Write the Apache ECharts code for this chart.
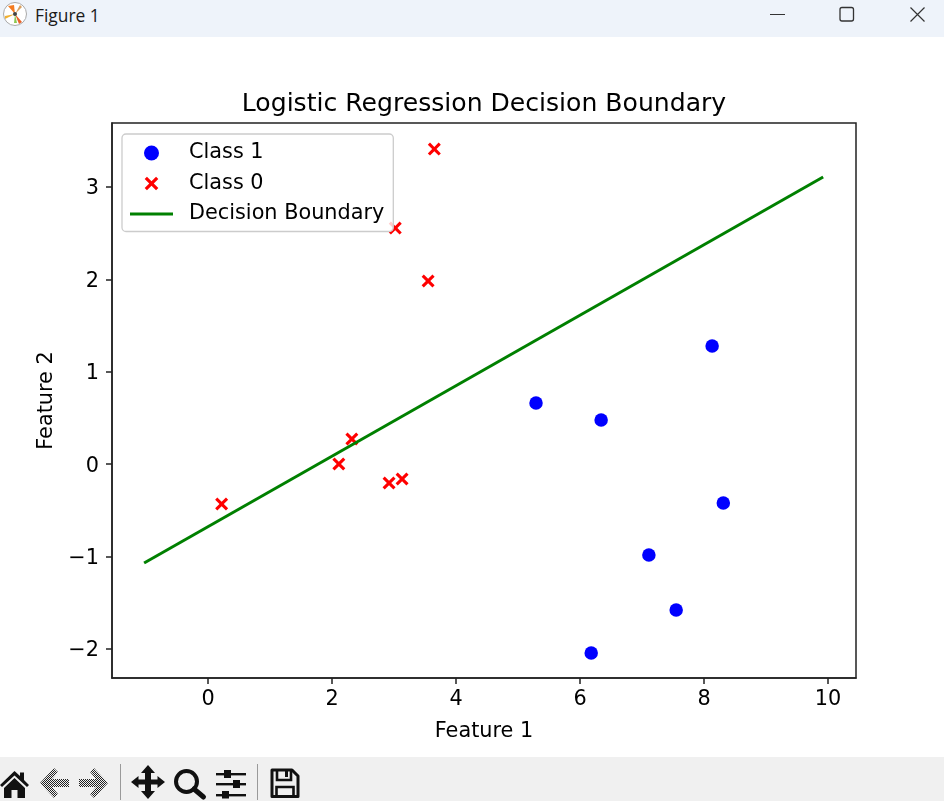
<!DOCTYPE html>
<html>
<head>
<meta charset="utf-8">
<script src="https://cdn.jsdelivr.net/npm/echarts@6/dist/echarts.min.js"></script>
<style>
html,body{margin:0;padding:0;background:#fff;width:944px;height:801px;overflow:hidden}
#chart{position:absolute;left:0;top:0;width:944px;height:801px}
#titlebar{position:absolute;left:0;top:0;width:944px;height:37px;background:#eef3fa}
#titletext{position:absolute;left:35px;top:5px;font:17.4px/20px "Open Sans","Noto Sans",sans-serif;color:#1a1a1a}
#toolbar{position:absolute;left:0;top:757px;width:944px;height:44px;background:#f0f0f0}
svg.over{position:absolute;left:0;top:0;pointer-events:none}
</style>
</head>
<body>
<div id="chart"></div>
<div id="titlebar"><div id="titletext">Figure 1</div></div>
<div id="toolbar"></div>
<svg class="over" width="944" height="801" viewBox="0 0 944 801">
  <defs>
    <pattern id="dither" width="2" height="2" patternUnits="userSpaceOnUse">
      <rect width="2" height="2" fill="#f0f0f0"/>
      <rect width="1" height="1" fill="#222"/>
      <rect x="1" y="1" width="1" height="1" fill="#222"/>
    </pattern>
  </defs>
  <!-- window icon -->
  <circle cx="15" cy="14" r="11.5" fill="#fff" stroke="#a8a8a8" stroke-width="1"/>
  <path d="M15 14 L8 6 L14 5 Z" fill="#f47b20"/>
  <path d="M15 14 L22 22 L19 24 Z" fill="#e8632a"/>
  <path d="M15 14 L5 16 L5 19 Z" fill="#f0b030"/>
  <path d="M15 14 L22 7 L20 5 Z" fill="#d8a060"/>
  <path d="M15 14 L14 23 L17 23 Z" fill="#8cc850"/>
  <circle cx="15" cy="14" r="2" fill="#444"/>
  <!-- window buttons -->
  <rect x="770" y="14" width="15" height="1" fill="#333"/>
  <rect x="840" y="7.5" width="13.5" height="13.5" rx="2" fill="none" stroke="#333" stroke-width="1.3"/>
  <path d="M910.5 7.5 L924.5 21.5 M924.5 7.5 L910.5 21.5" stroke="#333" stroke-width="1.2" fill="none"/>
  <!-- home -->
  <path d="M14.5 771 L20 776 V772.5 H24 V780 L29 785 L27 787 L14.5 775.5 L2 787 L0 785 Z" fill="#111"/>
  <path d="M14.5 778 L25 788 V798 H17.5 V790 H11.5 V798 H4 V788 Z" fill="#111"/>
  <!-- back / forward -->
  <path d="M54 768 L58 772 L52 779 H69 V787 H52 L58 794 L54 798 L40 783 Z" fill="url(#dither)"/>
  <path d="M94 768 L90 772 L96 779 H79 V787 H96 L90 794 L94 798 L108 783 Z" fill="url(#dither)"/>
  <rect x="120" y="764" width="1" height="36" fill="#9a9a9a"/>
  <!-- move -->
  <path d="M148 765 L155 773 H151 V779.5 H157.5 V776 L165 782 L157.5 788 V784.5 H151 V791 H155 L148 799 L141 791 H145 V784.5 H138.5 V788 L131 782 L138.5 776 V779.5 H145 V773 H141 Z" fill="#111"/>
  <!-- zoom -->
  <circle cx="186.5" cy="781.5" r="10.5" fill="none" stroke="#111" stroke-width="4"/>
  <path d="M194 789 L203.5 797" stroke="#111" stroke-width="5" stroke-linecap="round" fill="none"/>
  <!-- sliders -->
  <g fill="#111">
    <rect x="216" y="773" width="30" height="2.4"/><rect x="224" y="770" width="7" height="8"/>
    <rect x="216" y="783" width="30" height="2.4"/><rect x="233" y="780" width="7" height="8"/>
    <rect x="216" y="794" width="30" height="2.4"/><rect x="222" y="791" width="7" height="7.5"/>
  </g>
  <rect x="257" y="764" width="1" height="36" fill="#9a9a9a"/>
  <!-- save -->
  <path d="M272 770 H292 L298 776 V796.5 H272 Z" fill="none" stroke="#111" stroke-width="3" stroke-linejoin="round"/>
  <path d="M277 770 V780 H291 V770" fill="none" stroke="#111" stroke-width="2.6"/>
  <rect x="285" y="771" width="3" height="6" fill="#111"/>
  <path d="M276.5 796 V787 H293.5 V796" fill="none" stroke="#111" stroke-width="2.6"/>
</svg>
<script>
var class1X = [5.29, 6.34, 8.13, 8.31, 7.11, 7.55, 6.18];
var class1Y = [0.662, 0.478, 1.279, -0.42, -0.983, -1.578, -2.043];
var class0X = [0.22, 2.11, 2.32, 2.92, 3.13, 3.55, 3.02, 3.65];
var class0Y = [-0.431, 0.002, 0.273, -0.203, -0.16, 1.983, 2.556, 3.411];
var boundaryX = [-1.03, 9.92];
var boundaryY = [-1.069, 3.108];
var xTicks = [0, 2, 4, 6, 8, 10];
var yTicks = [-2, -1, 0, 1, 2, 3];
var seriesNames = ['Class 1', 'Class 0', 'Decision Boundary'];
var titleText = 'Logistic Regression Decision Boundary';
var xLabel = 'Feature 1';
var yLabel = 'Feature 2';

function zip(a, b) { return a.map(function (v, i) { return [v, b[i]]; }); }
var FONT = '"DejaVu Sans"';
var crossPath = 'path://M2,0 L6,4 L10,0 L12,2 L8,6 L12,10 L10,12 L6,8 L2,12 L0,10 L4,6 L0,2 Z';
var crossLegend = 'path://M-0.6,-0.6 L-0.6,-0.6 M12.6,12.6 L12.6,12.6 M2,0 L6,4 L10,0 L12,2 L8,6 L12,10 L10,12 L6,8 L2,12 L0,10 L4,6 L0,2 Z';
var lineLegend = 'path://M0,0 H42 V3 H0 Z';

function axis(name, min, max, ticks, gap, margin, richTop) {
  return {
    type: 'value', name: name, nameLocation: 'middle', nameGap: gap,
    nameTextStyle: { fontFamily: FONT, fontSize: 20.8, color: '#000' },
    min: min, max: max, splitLine: { show: false },
    axisLine: { show: true, onZero: false, lineStyle: { color: '#222', width: 1.5 } },
    axisTick: { show: true, length: 6, customValues: ticks, lineStyle: { color: '#222', width: 1.5 } },
    axisLabel: {
      show: true, customValues: ticks, margin: margin, fontFamily: FONT, fontSize: 20.8, color: '#000',
      rich: { t: { fontFamily: FONT, fontSize: 20.8, color: '#000', padding: [richTop, 0, 0, 0] } },
      formatter: function (v) { return '{t|' + String(v).replace('-', '\u2212') + '}'; }
    }
  };
}

var chart = echarts.init(document.getElementById('chart'), null, { renderer: 'canvas', width: 944, height: 801 });
chart.setOption({
  animation: false,
  backgroundColor: '#fff',
  title: {
    text: titleText, left: 484, top: 91.5, textAlign: 'center', padding: 0,
    textStyle: { fontFamily: FONT, fontSize: 25.1, fontWeight: 'normal', color: '#000' }
  },
  grid: { left: 112, right: 88, top: 123, bottom: 123, show: true, borderColor: '#222', borderWidth: 1.5, backgroundColor: 'transparent' },
  xAxis: axis(xLabel, -1.548, 10.45, xTicks, 43, 11, 0),
  yAxis: axis(yLabel, -2.314, 3.693, yTicks, 54, 13, 4),
  legend: {
    left: 122, top: 134, orient: 'vertical', align: 'left',
    padding: [8.5, 9, 7, 8], itemGap: 9.5, itemWidth: 43, itemHeight: 15,
    backgroundColor: 'rgba(255,255,255,0.8)', borderColor: '#ccc', borderWidth: 1.3, borderRadius: 4,
    textStyle: { fontFamily: FONT, fontSize: 20.8, color: '#000', padding: [0, 0, 0, 11] },
    data: [
      { name: seriesNames[0], icon: 'circle' },
      { name: seriesNames[1], icon: crossLegend },
      { name: seriesNames[2], icon: lineLegend }
    ]
  },
  series: [
    { name: seriesNames[0], type: 'scatter', data: zip(class1X, class1Y), symbol: 'circle', symbolSize: 13.5, itemStyle: { color: '#0000ff', opacity: 1 }, z: 3 },
    { name: seriesNames[1], type: 'scatter', data: zip(class0X, class0Y), symbol: crossPath, symbolSize: 13, itemStyle: { color: '#ff0000', opacity: 1 }, z: 3 },
    { name: seriesNames[2], type: 'line', data: zip(boundaryX, boundaryY), showSymbol: false, symbol: 'none', lineStyle: { color: '#008000', width: 3 }, itemStyle: { color: '#008000' }, z: 4 }
  ]
});
</script>
</body>
</html>
